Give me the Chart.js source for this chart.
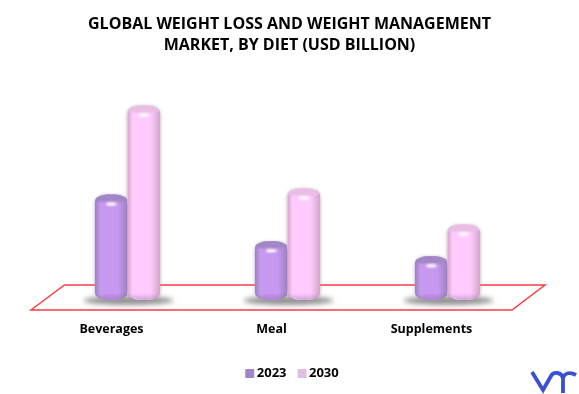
<!DOCTYPE html>
<html>
<head>
<meta charset="utf-8">
<script src="https://cdn.jsdelivr.net/npm/chart.js@4/dist/chart.umd.min.js"></script>
<style>
  html, body { margin: 0; background: #fff; }
  canvas { display: block; }
</style>
</head>
<body>
<canvas id="dietChart" width="579" height="394"></canvas>
<script>
const titleLines = ['GLOBAL WEIGHT LOSS AND WEIGHT MANAGEMENT', 'MARKET, BY DIET (USD BILLION)'];
const categories = ['Beverages', 'Meal', 'Supplements'];
const values2023 = [7.0, 3.9, 2.9];
const values2030 = [12.9, 7.4, 5.0];

const PURPLE = { base: '#b48fe0', edge: '#9d7fc0', mid: '#c798ef', cap: '#a287c4', legend: '#a183c8' };
const PINK = { base: '#fcc8fb', edge: '#d2a6cd', mid: '#ffcbff', cap: '#e8bee3', legend: '#e3bde3' };
const FONT = '"Open Sans", Lato, sans-serif';

const floorPlugin = {
  id: 'floor',
  // the library centres title and legend on the plot, the original sits a little to the right
  afterLayout(chart) {
    chart.titleBlock.left += 2;
    chart.titleBlock.right += 2;
    chart.legend.left += 6.5;
    chart.legend.right += 6.5;
    chart.legend.top -= 4;
    chart.legend.bottom -= 4;
  },
  beforeDatasetsDraw(chart) {
    const { ctx } = chart;
    ctx.save();
    ctx.strokeStyle = '#f83c44';
    ctx.lineWidth = 1.5;
    ctx.beginPath();
    ctx.moveTo(31, 310);
    ctx.lineTo(64.5, 285);
    ctx.lineTo(545, 285);
    ctx.lineTo(512, 310);
    ctx.closePath();
    ctx.stroke();

    // soft shadows under each group
    const bars = chart.getDatasetMeta(0).data;
    const bars2 = chart.getDatasetMeta(1).data;
    bars.forEach((bar, i) => {
      const cx = (bar.x + bars2[i].x) / 2;
      ctx.save();
      ctx.filter = 'blur(2.5px)';
      ctx.fillStyle = 'rgba(120,120,120,0.8)';
      ctx.beginPath();
      ctx.ellipse(cx + 1, bar.base + 0.5, 45, 4.5, 0, 0, Math.PI * 2);
      ctx.fill();
      ctx.restore();
    });

    // pale halo along the sides of the bars
    chart.data.datasets.forEach((ds, d) => {
      chart.getDatasetMeta(d).data.forEach((bar) => {
        ctx.save();
        ctx.filter = 'blur(1.5px)';
        ctx.fillStyle = 'rgba(150,150,150,0.5)';
        ctx.beginPath();
        ctx.roundRect(bar.x - bar.width / 2 - 1, bar.y, bar.width + 2, bar.base - bar.y, 10);
        ctx.fill();
        ctx.restore();
      });
    });
    ctx.restore();
  },
  afterDatasetsDraw(chart) {
    const { ctx } = chart;
    [PURPLE, PINK].forEach((tone, d) => {
      chart.getDatasetMeta(d).data.forEach((bar) => {
        const left = bar.x - bar.width / 2;
        const right = bar.x + bar.width / 2;
        const rx = bar.width / 2;
        const shaft = ctx.createLinearGradient(left, 0, right, 0);
        shaft.addColorStop(0, tone.edge);
        shaft.addColorStop(0.16, tone.mid);
        shaft.addColorStop(0.7, tone.mid);
        shaft.addColorStop(1, tone.edge);

        ctx.save();
        ctx.beginPath();
        ctx.roundRect(left, bar.y, bar.width, bar.base - bar.y, [
          { x: 13, y: 7 }, { x: 13, y: 7 }, { x: 14, y: 7 }, { x: 14, y: 7 },
        ]);
        ctx.clip();
        ctx.fillStyle = shaft;
        ctx.fillRect(left, bar.y, bar.width, bar.base - bar.y);

        // top cap, fades into the shaft
        const cap = ctx.createLinearGradient(0, bar.y, 0, bar.y + 9);
        cap.addColorStop(0, tone.cap);
        cap.addColorStop(0.6, tone.cap);
        cap.addColorStop(1, tone.cap + '00');
        ctx.fillStyle = cap;
        ctx.beginPath();
        ctx.ellipse(bar.x, bar.y + 4, rx + 1, 5.5, -0.04, 0, Math.PI * 2);
        ctx.fill();

        // highlight on the cap
        ctx.save();
        ctx.filter = 'blur(1px)';
        ctx.fillStyle = 'rgba(255,255,255,0.95)';
        ctx.beginPath();
        ctx.ellipse(bar.x, bar.y + 9.5, 5.5, 1.8, 0, 0, Math.PI * 2);
        ctx.fill();
        ctx.restore();

        // darker front lip at the foot
        const foot = ctx.createLinearGradient(0, bar.base - 7, 0, bar.base);
        foot.addColorStop(0, 'rgba(110,80,130,0)');
        foot.addColorStop(1, 'rgba(110,80,130,0.3)');
        ctx.fillStyle = foot;
        ctx.fillRect(left, bar.base - 7, bar.width, 7);
        ctx.restore();
      });
    });

    // brand mark, bottom right
    ctx.save();
    ctx.strokeStyle = '#3b4fd2';
    ctx.lineWidth = 3.8;
    ctx.beginPath();
    ctx.moveTo(532, 372);
    ctx.lineTo(543, 390);
    ctx.lineTo(551, 376);
    ctx.bezierCurveTo(553, 372, 562, 371, 563, 379);
    ctx.lineTo(563, 393);
    ctx.moveTo(563, 379);
    ctx.bezierCurveTo(564, 372, 571, 372, 576, 375);
    ctx.stroke();
    ctx.restore();
  },
};

new Chart(document.getElementById('dietChart').getContext('2d'), {
  type: 'bar',
  data: {
    labels: categories,
    datasets: [
      { label: '2023', data: values2023, backgroundColor: PURPLE.base, borderRadius: 12, borderSkipped: false },
      { label: '2030', data: values2030, backgroundColor: PINK.base, borderRadius: 12, borderSkipped: false },
    ],
  },
  options: {
    responsive: false,
    animation: false,
    layout: { padding: { left: 47.5, right: 51.5, top: 0, bottom: 0 } },
    categoryPercentage: 0.40625,
    barPercentage: 1,
    scales: {
      x: {
        grid: { display: false },
        border: { display: false },
        ticks: { color: '#000', font: { family: FONT, size: 12.5, weight: 'bold' }, padding: 14, labelOffset: -16 },
        afterFit(scale) {
          scale.height += 5;
        },
      },
      y: { display: false, min: 0, max: 14 },
    },
    plugins: {
      title: {
        display: true,
        text: titleLines,
        color: '#000',
        font: { family: FONT, size: 16, weight: 'bold', lineHeight: 1.31 },
        padding: { top: 14, bottom: 33 },
      },
      legend: {
        position: 'bottom',
        labels: {
          color: '#000',
          font: { family: FONT, size: 13, weight: 'bold' },
          usePointStyle: true,
          pointStyle: 'rect',
          boxWidth: 1,
          boxHeight: 8,
          padding: 15,
          generateLabels: () => [
            { text: '2023', fillStyle: PURPLE.legend, strokeStyle: PURPLE.legend, pointStyle: 'rect', datasetIndex: 0 },
            { text: '2030', fillStyle: PINK.legend, strokeStyle: PINK.legend, pointStyle: 'rect', datasetIndex: 1 },
          ],
        },
      },
      tooltip: { enabled: false },
    },
  },
  plugins: [floorPlugin],
});
</script>
</body>
</html>
